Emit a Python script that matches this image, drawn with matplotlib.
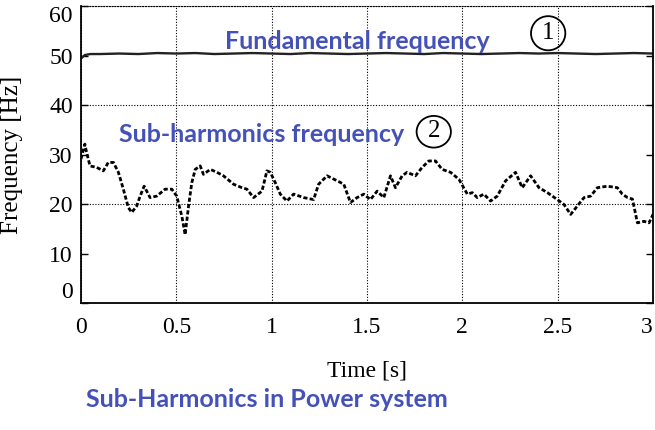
import matplotlib.pyplot as plt
from matplotlib.patches import Ellipse

# fundamental frequency trace (curve 1)
fund_t = [0.0, 0.02, 0.05, 0.1, 0.2, 0.3, 0.4, 0.5, 0.6, 0.7, 0.8, 0.9, 1.0, 1.1,
          1.2, 1.3, 1.4, 1.5, 1.6, 1.7, 1.8, 1.9, 2.0, 2.1, 2.2, 2.3, 2.4, 2.5,
          2.6, 2.7, 2.8, 2.9, 3.0]
fund_f = [49.4, 50.1, 50.3, 50.3, 50.4, 50.3, 50.5, 50.4, 50.5, 50.3, 50.4, 50.5, 50.4, 50.3,
          50.5, 50.4, 50.3, 50.4, 50.5, 50.4, 50.3, 50.5, 50.4, 50.3, 50.4, 50.5, 50.4, 50.5,
          50.4, 50.3, 50.4, 50.5, 50.4]

# sub-harmonic frequency trace (curve 2)
sub_t = [0.0, 0.02, 0.027, 0.047, 0.082, 0.117, 0.143, 0.17, 0.196, 0.222, 0.248, 0.266,
         0.292, 0.31, 0.331, 0.362, 0.397, 0.441, 0.476, 0.502, 0.529, 0.546, 0.564, 0.581,
         0.599, 0.625, 0.642, 0.678, 0.713, 0.747, 0.8, 0.844, 0.87, 0.905, 0.949, 0.975,
         0.993, 1.019, 1.045, 1.08, 1.115, 1.168, 1.22, 1.246, 1.29, 1.343, 1.378, 1.413,
         1.448, 1.483, 1.518, 1.553, 1.588, 1.623, 1.649, 1.684, 1.71, 1.754, 1.789, 1.824,
         1.859, 1.894, 1.938, 1.982, 2.026, 2.052, 2.078, 2.113, 2.148, 2.183, 2.227, 2.279,
         2.314, 2.358, 2.402, 2.446, 2.498, 2.533, 2.568, 2.603, 2.638, 2.673, 2.708, 2.761,
         2.813, 2.839, 2.866, 2.892, 2.918, 2.953, 2.979, 3.0]
sub_f = [29.1, 32.1, 30.8, 27.7, 27.4, 26.7, 28.4, 28.4, 26.4, 23.0, 19.3, 18.3,
         19.6, 21.6, 23.6, 21.3, 21.6, 23.0, 23.0, 21.6, 17.5, 13.8, 19.6, 24.3,
         27.0, 27.7, 26.0, 27.0, 26.4, 25.7, 24.0, 23.3, 23.0, 21.3, 22.6, 26.7,
         26.4, 24.3, 22.0, 20.6, 22.0, 21.3, 20.9, 24.0, 25.7, 24.7, 24.0, 20.3,
         21.3, 22.0, 20.9, 22.6, 21.3, 25.7, 23.3, 25.7, 26.4, 25.7, 27.4, 28.7,
         28.7, 27.0, 26.4, 25.0, 22.0, 22.3, 21.3, 22.0, 20.6, 21.6, 24.7, 26.4,
         23.3, 25.7, 23.3, 22.3, 20.9, 19.9, 17.9, 19.6, 21.3, 21.6, 23.3, 23.6,
         23.3, 22.0, 21.3, 21.0, 16.2, 16.5, 16.2, 17.9]

x_ticks = [0, 0.5, 1, 1.5, 2, 2.5, 3]
x_labels = ['0', '0.5', '1', '1.5', '2', '2.5', '3']
y_major = [0, 20, 40, 60]
y_minor = [10, 30, 50]

serif = 'Liberation Serif'
blue = '#4452b8'

fig = plt.figure(figsize=(6.55, 4.30), dpi=100)
ax = fig.add_axes([0.1237, 0.2953, 0.8733, 0.6907])

ax.plot(fund_t, fund_f, color='#222222', lw=1.7)
ax.plot(sub_t, sub_f, color='black', lw=2.0, linestyle=(0, (1.5, 0.8)))

ax.set_xlim(0, 3)
ax.set_ylim(0, 60)
ax.set_xticks(x_ticks)
ax.set_xticklabels(x_labels, fontfamily=serif, fontsize=17)
ax.get_xticklabels()[-1].set_horizontalalignment('right')
ax.set_yticks(y_major)
ax.set_yticklabels([str(v) for v in y_major], fontfamily=serif, fontsize=17)
ylabs = ax.get_yticklabels()
ylabs[-1].set_verticalalignment('top')
ylabs[0].set_verticalalignment('bottom')
ax.set_yticks(y_minor, minor=True)
ax.set_yticklabels([str(v) for v in y_minor], minor=True, fontfamily=serif, fontsize=17)

ax.tick_params(axis='both', which='both', direction='in', length=5, width=1,
               right=True, top=False, pad=6)
ax.tick_params(axis='x', length=0, pad=10)
ax.grid(True, which='major', color='black', linestyle=(0, (1, 1.5)), lw=0.8)

for side in ['left', 'right', 'bottom']:
    ax.spines[side].set_linewidth(1.3)
ax.spines['top'].set_linestyle((0, (1, 1.5)))
ax.spines['top'].set_linewidth(0.8)

ax.set_xlabel('Time [s]', fontfamily=serif, fontsize=17, labelpad=16)
ax.set_ylabel('Frequency [Hz]', fontfamily=serif, fontsize=18)
ax.yaxis.set_label_coords(-0.102, 0.5)

ax.text(1.45, 52.8, 'Fundamental frequency', color=blue, fontfamily='Lato',
        fontweight='bold', fontsize=18, ha='center', va='center')
ax.text(0.2, 34.1, 'Sub-harmonics frequency', color=blue, fontfamily='Lato',
        fontweight='bold', fontsize=18, ha='left', va='center')

ax.add_patch(Ellipse((2.45, 54.5), 0.18, 6.9, fill=False, lw=1.3, color='black'))
ax.text(2.45, 54.6, '1', fontfamily=serif, fontsize=18, ha='center', va='center')
ax.add_patch(Ellipse((1.85, 34.6), 0.18, 6.4, fill=False, lw=1.3, color='black'))
ax.text(1.85, 34.7, '2', fontfamily=serif, fontsize=18, ha='center', va='center')

fig.text(0.131, 0.07, 'Sub-Harmonics in Power system', color=blue, fontfamily='Lato',
         fontweight='bold', fontsize=18, ha='left', va='center')

fig.savefig('out.png', dpi=100)
